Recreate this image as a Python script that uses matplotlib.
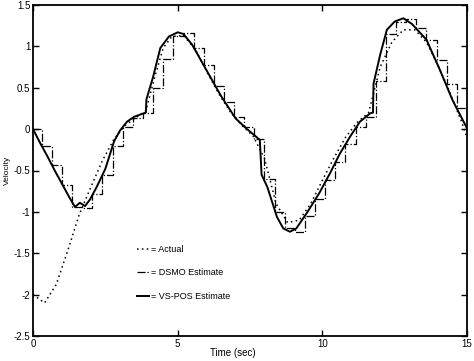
import numpy as np
import matplotlib
matplotlib.use("Agg")
import matplotlib.pyplot as plt

plt.rcParams['font.family'] = ['Liberation Sans', 'DejaVu Sans']

# Actual velocity (dotted)
actual_t = [0, 0.4, 0.8, 1.2, 1.6, 2.0, 2.4, 2.8, 3.2, 3.6, 3.9, 4.2, 4.5, 4.8,
            5.2, 5.6, 6.0, 6.4, 6.8, 7.2, 7.6, 8.0, 8.4, 8.8, 9.2, 9.6, 10.0,
            10.4, 10.8, 11.2, 11.6, 12.0, 12.4, 12.8, 13.2, 13.6, 14.0, 14.4,
            14.8, 15.0]
actual_v = [-2.0, -2.1, -1.88, -1.47, -1.03, -0.7, -0.38, -0.12, 0.05, 0.15,
            0.22, 0.62, 0.98, 1.12, 1.13, 0.97, 0.7, 0.44, 0.22, 0.05, -0.08,
            -0.35, -0.9, -1.13, -1.1, -0.9, -0.62, -0.35, -0.1, 0.08, 0.2,
            0.75, 1.05, 1.2, 1.2, 1.05, 0.77, 0.45, 0.1, -0.1]

# VS-POS estimate (solid)
vspos_t = [0, 0.25, 0.5, 0.75, 1.0, 1.25, 1.45, 1.62, 1.8, 1.97, 2.2, 2.5, 2.8,
           3.0, 3.25, 3.5, 3.9, 3.92, 4.15, 4.4, 4.7, 5.0, 5.2, 5.5, 6.0, 6.5,
           7.0, 7.4, 7.84, 7.9, 8.1, 8.43, 8.65, 8.88, 9.1, 9.47, 9.9, 10.27,
           10.6, 10.96, 11.3, 11.65, 11.75, 11.77, 12.0, 12.23, 12.5, 12.8,
           13.1, 13.6, 14.07, 14.5, 15.0]
vspos_v = [0, -0.17, -0.33, -0.5, -0.66, -0.82, -0.94, -0.89, -0.93, -0.85,
           -0.7, -0.48, -0.15, -0.02, 0.09, 0.15, 0.2, 0.36, 0.63, 0.98, 1.12,
           1.17, 1.15, 1.02, 0.71, 0.4, 0.13, 0.0, -0.13, -0.55, -0.7, -1.06,
           -1.2, -1.24, -1.2, -1.01, -0.77, -0.53, -0.3, -0.09, 0.09, 0.19,
           0.2, 0.55, 0.9, 1.2, 1.3, 1.34, 1.27, 1.08, 0.71, 0.35, 0.01]

# DSMO estimate (dash-dot staircase), sample times and held values
dsmo_t = [0, 0.3, 0.65, 1.0, 1.35, 1.7, 2.05, 2.4, 2.75, 3.1, 3.45, 3.8, 4.15,
          4.5, 4.85, 5.2, 5.55, 5.9, 6.25, 6.6, 6.95, 7.3, 7.65, 8.0, 8.35,
          8.7, 9.05, 9.4, 9.75, 10.1, 10.45, 10.8, 11.15, 11.5, 11.85, 12.2,
          12.55, 12.9, 13.25, 13.6, 13.95, 14.3, 14.65, 15.0]
dsmo_v = [0, -0.2, -0.43, -0.68, -0.94, -0.95, -0.78, -0.55, -0.2, 0.03, 0.14,
          0.2, 0.5, 0.85, 1.12, 1.16, 0.98, 0.78, 0.52, 0.33, 0.15, 0.03,
          -0.12, -0.6, -1.0, -1.2, -1.24, -1.05, -0.85, -0.62, -0.4, -0.18,
          0.02, 0.15, 0.58, 1.15, 1.3, 1.33, 1.22, 1.08, 0.83, 0.55, 0.25, 0.25]

xticks = [0, 5, 10, 15]
yticks = [-2.5, -2, -1.5, -1, -0.5, 0, 0.5, 1, 1.5]
ytick_labels = ['-2.5', '-2', '-1.5', '-1', '-0.5', '0', '0.5', '1', '1.5']

fig = plt.figure(figsize=(4.74, 3.61), dpi=100)
ax = fig.add_axes([33/474, 1-336/361, 434/474, 331/361])

ax.plot(actual_t, actual_v, color='black', linestyle=(0, (1, 2.2)), lw=1.1,
        label='= Actual')
ax.step(dsmo_t, dsmo_v, where='post', color='black', linestyle='-.', lw=0.9,
        label='= DSMO Estimate')
ax.plot(vspos_t, vspos_v, color='black', linestyle='-', lw=1.4,
        label='= VS-POS Estimate')

ax.set_xlim(0, 15)
ax.set_ylim(-2.5, 1.5)
ax.set_xticks(xticks)
ax.set_xticklabels([str(v) for v in xticks])
ax.set_yticks(yticks)
ax.set_yticklabels(ytick_labels)
ax.tick_params(direction='in', top=True, right=True, length=4, width=1,
               labelsize=7, pad=2)
for s in ax.spines.values():
    s.set_linewidth(1.3)

ax.set_xlabel('Time (sec)', fontsize=7, labelpad=2)
ax.xaxis.set_label_coords(0.46, -0.035)
ax.set_ylabel('Velocity', fontsize=6, labelpad=2)

leg = ax.legend(loc='upper left', bbox_to_anchor=(0.22, 0.3), frameon=False,
                fontsize=6.5, handlelength=1.4, handletextpad=0.2,
                labelspacing=1.6)

fig.savefig('out.png', dpi=100)
